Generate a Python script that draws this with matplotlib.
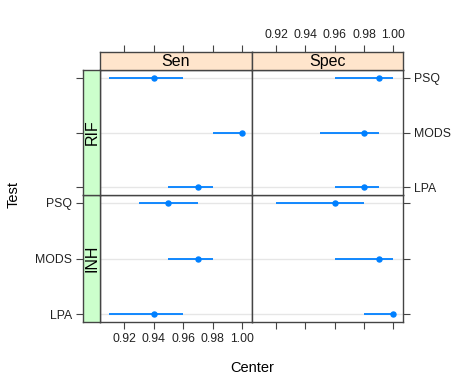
import numpy as np
import matplotlib
matplotlib.use("Agg")
import matplotlib.pyplot as plt

plt.rcParams['font.family'] = ['Liberation Sans', 'DejaVu Sans']

tests = ["LPA", "MODS", "PSQ"]          # bottom to top
drugs = ["INH", "RIF"]                  # bottom row, top row
measures = ["Sen", "Spec"]

# center, lower, upper for each drug/measure (order follows tests)
rif_sen = [0.97, 1.00, 0.94]
rif_sen_lo = [0.95, 0.98, 0.91]
rif_sen_hi = [0.98, 1.00, 0.96]
rif_spec = [0.98, 0.98, 0.99]
rif_spec_lo = [0.96, 0.95, 0.96]
rif_spec_hi = [0.99, 0.99, 1.00]
inh_sen = [0.94, 0.97, 0.95]
inh_sen_lo = [0.91, 0.95, 0.93]
inh_sen_hi = [0.96, 0.98, 0.97]
inh_spec = [1.00, 0.99, 0.96]
inh_spec_lo = [0.98, 0.96, 0.92]
inh_spec_hi = [1.00, 1.00, 0.98]

data = {
    ("RIF", "Sen"): (rif_sen, rif_sen_lo, rif_sen_hi),
    ("RIF", "Spec"): (rif_spec, rif_spec_lo, rif_spec_hi),
    ("INH", "Sen"): (inh_sen, inh_sen_lo, inh_sen_hi),
    ("INH", "Spec"): (inh_spec, inh_spec_lo, inh_spec_hi),
}

xticks = [0.92, 0.94, 0.96, 0.98, 1.00]
xlim = (0.9037, 1.0065)
ylim = (0.86, 3.14)

W, H = 474, 386
fig = plt.figure(figsize=(W / 100, H / 100), dpi=100)

def fx(px):
    return px / W

def fy(py):
    return 1 - py / H

edge = "#444444"
blue = "#0080ff"
col_x = [100, 252, 403]
row_y = {"RIF": (70, 195), "INH": (195, 322)}
tick_kw = dict(direction="out", length=5, width=0.8, color=edge, labelsize=8.8, labelcolor="#222222", pad=3)

for drug in drugs:
    top, bot = row_y[drug]
    for j, m in enumerate(measures):
        l, r = col_x[j], col_x[j + 1]
        ax = fig.add_axes([fx(l), fy(bot), fx(r) - fx(l), fy(top) - fy(bot)])
        c, lo, hi = data[(drug, m)]
        y = np.arange(1, len(tests) + 1)
        for yi in y:
            ax.axhline(yi, color="#e6e6e6", lw=1, zorder=1)
        ax.hlines(y, lo, hi, color=blue, lw=1.3, zorder=2)
        ax.plot(c, y, "o", color=blue, ms=3.6, zorder=3)
        ax.set_xlim(xlim)
        ax.set_ylim(ylim)
        for s in ax.spines.values():
            s.set_color(edge)
            s.set_linewidth(1)
        ax.set_yticks(y)
        ax.set_xticks(xticks)
        ax.tick_params(**tick_kw)
        ax.tick_params(left=False, labelleft=False)
        if m == "Spec":
            ax.tick_params(right=True, labelright=(drug == "RIF"))
            ax.set_yticklabels(tests)
        else:
            ax.tick_params(right=False, labelright=False)
        if drug == "INH":
            ax.tick_params(bottom=True, labelbottom=(m == "Sen"))
        else:
            ax.tick_params(bottom=False, labelbottom=False)
        ax.set_xticklabels(["%.2f" % t for t in xticks])

        if drug == "RIF":
            st = fig.add_axes([fx(l), fy(70), fx(r) - fx(l), fy(52) - fy(70)])
            st.set_facecolor("#ffe5cc")
            st.set_xlim(xlim)
            st.set_xticks(xticks)
            st.set_xticklabels(["%.2f" % t for t in xticks])
            st.set_yticks([])
            st.tick_params(**tick_kw)
            st.tick_params(bottom=False, labelbottom=False, top=True, labeltop=(m == "Spec"))
            for s in st.spines.values():
                s.set_color(edge)
                s.set_linewidth(1)
            st.text(0.5, 0.45, m, ha="center", va="center", fontsize=11.5, transform=st.transAxes)

    # left strip
    ls = fig.add_axes([fx(83), fy(bot), fx(100) - fx(83), fy(top) - fy(bot)])
    ls.set_facecolor("#ccffcc")
    ls.set_ylim(ylim)
    ls.set_xticks([])
    ls.set_yticks(np.arange(1, len(tests) + 1))
    ls.set_yticklabels(tests)
    ls.tick_params(**tick_kw)
    ls.tick_params(labelleft=(drug == "INH"))
    for s in ls.spines.values():
        s.set_color(edge)
        s.set_linewidth(1)
    ls.text(0.55, 0.5, drug, rotation=90, ha="center", va="center", fontsize=11.5, transform=ls.transAxes)

fig.text(fx(252), fy(368), "Center", ha="center", va="center", fontsize=10.5)
fig.text(fx(14), fy(195), "Test", ha="center", va="center", rotation=90, fontsize=10.5)

fig.savefig("out.png", dpi=100)
